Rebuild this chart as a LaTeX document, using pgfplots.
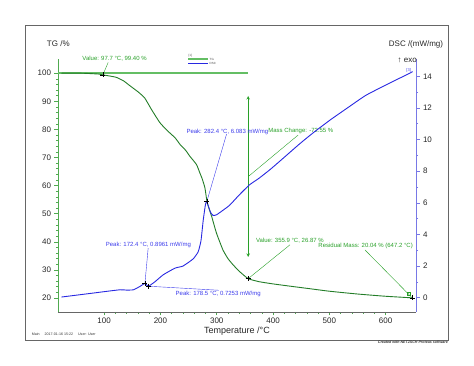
\documentclass[border=0pt]{standalone}
\usepackage{fontspec}
\setmainfont{Liberation Sans}
\usepackage{pgfplots}
\pgfplotsset{compat=1.18}
\definecolor{tgc}{RGB}{35,125,40}
\definecolor{annG}{RGB}{40,160,40}
\definecolor{refG}{RGB}{100,190,100}
\definecolor{dscB}{RGB}{40,40,225}
\definecolor{annB}{RGB}{60,60,235}
\definecolor{axB}{RGB}{120,120,230}
\definecolor{axG}{RGB}{80,170,80}

\pgfplotstableread{
T TG
24 100.0
60 100.0
90 99.7
97.7 99.4
110 99.0
122 98.5
135 97.2
146 95.5
160 93.4
172 91.2
184 87.1
199 82.4
212 79.6
226 77.0
235 74.6
245 72.5
252 70.5
264 67.5
270 64.5
274 62.5
279 59.2
283 54
291 49
299.5 43.1
311 37.1
320 34
329 31.8
340 29.5
355.9 26.87
375 25.8
400 25.0
430 24.2
465 23.3
500 22.4
550 21.4
600 20.6
647.2 20.04
}\tgdata

\pgfplotstableread{
T DSC
24 0.04
60 0.2
100 0.38
128 0.5
140 0.48
152 0.5
163 0.7
172.4 0.896
178.5 0.725
190 1.0
205 1.45
226 1.87
240 2.0
258 2.45
267 2.9
272 3.6
276 4.9
280 5.9
282.4 6.083
285 5.8
289 5.4
293.5 5.2
299.5 5.24
310 5.5
323 5.85
340 6.5
358 7.13
375 7.55
394 8.08
411 8.6
447 9.72
470 10.39
500 11.2
518 11.65
535 12.07
565 12.8
606 13.55
642 14.18
648 14.3
}\dscdata

\pgfplotstableread{
T TG
18 100
355.9 100
}\refline

\begin{document}
\begin{tikzpicture}[x=1pt,y=1pt]
\useasboundingbox (-58,-54) rectangle (416,312);
\draw[black!60, line width=0.8pt] (-33,-28) rectangle (390,287);

\begin{axis}[at={(0,0)}, anchor=south west, scale only axis,
  width=358pt, height=253.4pt,
  xmin=18, xmax=654, ymin=15, ymax=105.2, clip=false,
  axis x line*=bottom, axis y line*=left,
  xtick={100,200,...,600}, minor x tick num=4,
  ytick={20,30,...,100}, minor y tick num=4,
  tick align=outside, major tick length=3.5pt, minor tick length=2pt,
  x axis line style={black!60, line width=0.6pt},
  y axis line style={axG, line width=0.6pt},
  tick style={axG, line width=0.5pt},
  tick label style={font=\fontsize{8}{9}\selectfont, text=black!85},
  xticklabel style={yshift=1pt},
  /pgf/number format/assume math mode=true]
  % reference line at 100 %
  \addplot[draw=refG, line width=1.5pt, mark=none] table[x=T, y=TG] {\refline};
  % TG curve
  \addplot[draw=tgc, line width=0.9pt, mark=none, smooth, tension=0.3] table[x=T, y=TG] {\tgdata};
  % mass change arrow
  \draw[draw=annG, line width=0.6pt, <->, >=stealth] (355.9,91.9) -- (355.9,34.6);
  % markers
  \addplot[only marks, mark=+, mark size=2.5pt, black, line width=0.6pt]
    coordinates {(97.7,99.4) (355.9,26.87) (647.2,20.04)};
  % annotations
  \draw[draw=annG, line width=0.4pt] (107.1,103.8) -- (97.7,99.4);
  \node[text=annG, font=\fontsize{6}{7}\selectfont] at (118.5,105.26) {Value: 97.7 °C, 99.40 \%};
  \draw[draw=annG, line width=0.4pt] (444.7,78.0) -- (355.9,63.2);
  \node[text=annG, font=\fontsize{6}{7}\selectfont, anchor=west, inner sep=0pt] at (391.4,79.45) {Mass Change: -72.55 \%};
  \draw[draw=annG, line width=0.4pt] (430,38.9) -- (355.9,26.87);
  \node[text=annG, font=\fontsize{6}{7}\selectfont] at (430,40.2) {Value: 355.9 °C, 26.87 \%};
  \draw[draw=annG, line width=0.4pt] (563.3,37.1) -- (647.2,20.04);
  \node[text=annG, font=\fontsize{6}{7}\selectfont] at (564.5,38.6) {Residual Mass: 20.04 \% (647.2 °C)};
  \node[text=annG, font=\fontsize{3}{3}\selectfont, draw=annG, line width=0.2pt, inner sep=0.4pt] at (641,21.6) {1};
\end{axis}

\begin{axis}[at={(0,0)}, anchor=south west, scale only axis,
  width=358pt, height=253.4pt,
  xmin=18, xmax=654, ymin=-0.905, ymax=15.12, clip=false,
  axis x line=none, axis y line*=right,
  ytick={0,2,...,14}, minor y tick num=1,
  tick align=outside, major tick length=3.5pt, minor tick length=2pt,
  y axis line style={axB, line width=0.6pt},
  tick style={axB, line width=0.5pt},
  tick label style={font=\fontsize{8}{9}\selectfont, text=black!85},
  /pgf/number format/assume math mode=true]
  \addplot[draw=dscB, line width=0.9pt, mark=none, smooth, tension=0.3] table[x=T, y=DSC] {\dscdata};
  \addplot[only marks, mark=+, mark size=2.5pt, black, line width=0.6pt]
    coordinates {(172.4,0.8961) (178.5,0.7253) (282.4,6.083)};
  \draw[draw=annB, line width=0.4pt] (178.2,3.14) -- (172.4,0.8961);
  \node[text=annB, font=\fontsize{6}{7}\selectfont] at (178.6,3.33) {Peak: 172.4 °C, 0.8961 mW/mg};
  \draw[draw=annB, line width=0.4pt] (178.5,0.7253) -- (303.8,0.47);
  \node[text=annB, font=\fontsize{6}{7}\selectfont] at (302.6,0.25) {Peak: 178.5 °C, 0.7253 mW/mg};
  \draw[draw=annB, line width=0.4pt] (317.5,10.35) -- (282.4,6.083);
  \node[text=annB, font=\fontsize{6}{7}\selectfont] at (318.9,10.5) {Peak: 282.4 °C, 6.083 mW/mg};
\end{axis}

% axis titles
\node[font=\fontsize{8}{9}\selectfont, text=black!85] at (0.3,268.7) {TG /\%};
\node[font=\fontsize{8}{9}\selectfont, text=black!85] at (358,268) {DSC /(mW/mg)};
\node[font=\fontsize{8}{9}\selectfont, text=black!85, anchor=east, inner sep=0pt] at (359,252) {↑ exo};
\node[font=\fontsize{9}{10}\selectfont, text=black!85] at (179,-19.5) {Temperature /°C};
\node[font=\fontsize{4}{4}\selectfont, text=annB] at (350.7,242) {[3]};
% legend
\fill[refG] (130.3,251.9) rectangle (150.3,253.5);
\fill[dscB] (130.3,247.5) rectangle (150.3,249.1);
\node[font=\fontsize{3}{3}\selectfont, text=black!70, anchor=west, inner sep=0pt] at (130.3,256) {[1]};
\node[font=\fontsize{3}{3}\selectfont, text=black!70, anchor=west, inner sep=0pt] at (151.5,252.7) {TG};
\node[font=\fontsize{3}{3}\selectfont, text=black!70, anchor=west, inner sep=0pt] at (151.5,248.3) {DSC};
% footer
\node[font=\fontsize{3.6}{4}\selectfont, text=black!80, anchor=west, inner sep=0pt] at (-26.3,-22) {Main\hspace{5pt}2017-01-16 15:22\hspace{5pt}User: User};
\node[font=\bfseries\itshape\fontsize{3.6}{4}\selectfont, text=black!80, anchor=east, inner sep=0pt] at (390,-30.7) {Created with NETZSCH Proteus software};
\end{tikzpicture}
\end{document}
